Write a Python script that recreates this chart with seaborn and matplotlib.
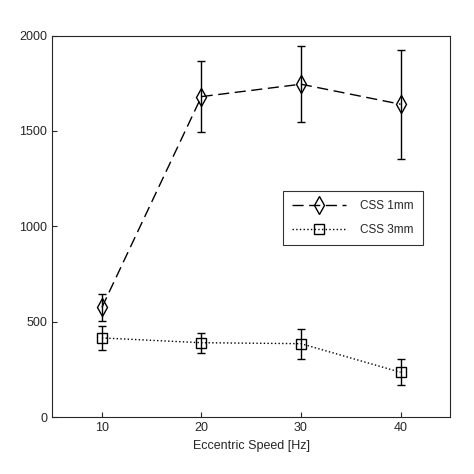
import matplotlib
matplotlib.use("Agg")
import matplotlib.pyplot as plt
import seaborn as sns
import pandas as pd

speed = [10, 20, 30, 40]
css1_mean = [575, 1680, 1745, 1640]
css1_err = [72, 185, 200, 285]
css3_mean = [415, 390, 385, 235]
css3_err = [62, 52, 78, 68]

sns.set_style("ticks")
plt.rcParams['font.family'] = ['Liberation Sans', 'DejaVu Sans']

df = pd.DataFrame({
    "speed": speed * 2,
    "value": css1_mean + css3_mean,
    "err": css1_err + css3_err,
    "group": ["CSS 1mm"] * 4 + ["CSS 3mm"] * 4,
})

fig, ax = plt.subplots(figsize=(4.74, 4.74), dpi=100)
styles = {"CSS 1mm": dict(ls=(0, (8, 4)), marker="d", ms=9),
          "CSS 3mm": dict(ls=":", marker="s", ms=7)}
for name, sub in df.groupby("group"):
    st = styles[name]
    sns.lineplot(data=sub, x="speed", y="value", ax=ax, color="black", lw=1,
                 linestyle=st["ls"], marker=st["marker"], markersize=st["ms"],
                 markerfacecolor="none", markeredgecolor="black",
                 markeredgewidth=1, label=name)
    ax.errorbar(sub["speed"], sub["value"], yerr=sub["err"], fmt="none",
                ecolor="black", elinewidth=1, capsize=3)

ax.set_xlim(5, 45)
ax.set_ylim(0, 2000)
ax.set_xticks([10, 20, 30, 40])
ax.set_yticks([0, 500, 1000, 1500, 2000])
ax.set_xlabel("Eccentric Speed [Hz]", fontsize=9)
ax.set_ylabel("")
ax.tick_params(direction="in", labelsize=9, top=False, right=False)
for s in ax.spines.values():
    s.set_linewidth(0.8)
leg = ax.legend(loc="lower left", bbox_to_anchor=(0.565, 0.435), fontsize=8.5,
                fancybox=False, edgecolor="black", handlelength=4.5,
                borderpad=0.8, labelspacing=1.0, handletextpad=1.2)
leg.get_frame().set_linewidth(0.8)
fig.subplots_adjust(left=0.11, right=0.95, bottom=0.12, top=0.925)
fig.savefig("out.png", dpi=100)
